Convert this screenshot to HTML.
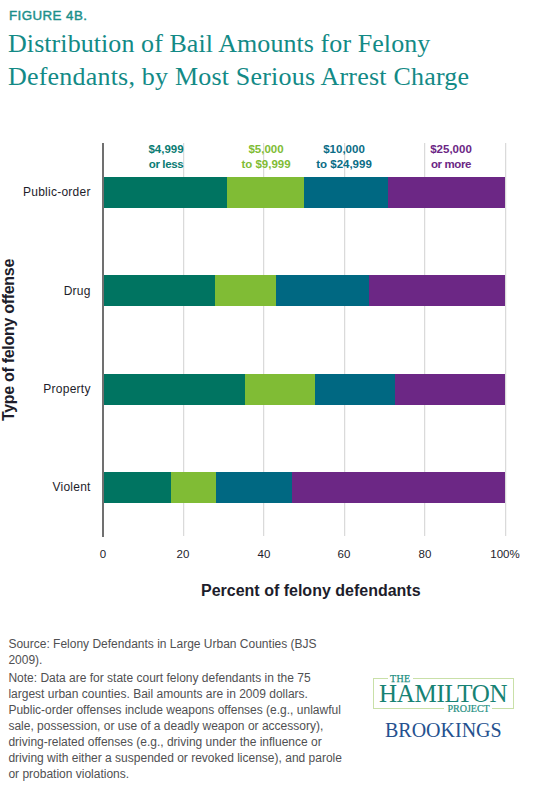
<!DOCTYPE html>
<html><head><meta charset="utf-8">
<style>
html,body{margin:0;padding:0;background:#fff;}
body{width:546px;height:788px;position:relative;overflow:hidden;font-family:"Liberation Sans",sans-serif;}
.a{position:absolute;white-space:nowrap;}
.fig{left:9px;top:7.5px;font-size:13.3px;line-height:16px;font-weight:400;color:#1b8f8a;letter-spacing:0.45px;-webkit-text-stroke:0.45px #1b8f8a;}
.t{left:8px;font-family:"Liberation Serif",serif;font-size:26px;line-height:32px;color:#138a86;}
.grid{position:absolute;top:143px;height:393px;width:1px;background:#dadada;box-shadow:1px 0 0 #f6f6f6;}
.axis{position:absolute;left:102px;top:143px;height:394px;width:2px;background:#707070;}
.bar{position:absolute;height:31px;}
.g1{background:#007461;}
.g2{background:#80bc35;}
.g3{background:#006882;}
.g4{background:#6c2785;}
.yl{position:absolute;right:455.3px;font-size:12px;line-height:14px;color:#1d1d2b;white-space:nowrap;letter-spacing:0.25px;}
.xl{position:absolute;width:60px;text-align:center;font-size:11.5px;line-height:12px;color:#1d1d2b;}
.lg{position:absolute;width:100px;text-align:center;font-size:11.5px;line-height:15px;font-weight:700;}
.lg span{display:block;}
.note{left:8.4px;top:636px;font-size:12px;line-height:16px;color:#505052;}
</style></head><body>
<div class="a fig">FIGURE 4B.</div>
<div class="a t" style="top:28px;letter-spacing:0.07px">Distribution of Bail Amounts for Felony</div>
<div class="a t" style="top:60.5px;letter-spacing:0.2px">Defendants, by Most Serious Arrest Charge</div>

<div class="grid" style="left:183px"></div>
<div class="grid" style="left:263px"></div>
<div class="grid" style="left:344px"></div>
<div class="grid" style="left:424px"></div>
<div class="grid" style="left:505px"></div>

<div class="lg" style="left:116px;top:141.6px;color:#0b7c73"><span>$4,999</span><span style="letter-spacing:-0.4px">or less</span></div>
<div class="lg" style="left:216px;top:141.6px;color:#80bc35"><span>$5,000</span><span>to $9,999</span></div>
<div class="lg" style="left:294px;top:141.6px;color:#0a6d86"><span>$10,000</span><span>to $24,999</span></div>
<div class="lg" style="left:401px;top:141.6px;color:#6c2785"><span>$25,000</span><span style="letter-spacing:-0.4px">or more</span></div>

<div class="bar g1" style="top:177px;left:103px;width:124px"></div>
<div class="bar g2" style="top:177px;left:227px;width:77px"></div>
<div class="bar g3" style="top:177px;left:304px;width:84px"></div>
<div class="bar g4" style="top:177px;left:388px;width:117px"></div>

<div class="bar g1" style="top:275px;left:103px;width:112px"></div>
<div class="bar g2" style="top:275px;left:215px;width:61px"></div>
<div class="bar g3" style="top:275px;left:276px;width:93px"></div>
<div class="bar g4" style="top:275px;left:369px;width:136px"></div>

<div class="bar g1" style="top:374px;left:103px;width:142px"></div>
<div class="bar g2" style="top:374px;left:245px;width:70px"></div>
<div class="bar g3" style="top:374px;left:315px;width:80px"></div>
<div class="bar g4" style="top:374px;left:395px;width:110px"></div>

<div class="bar g1" style="top:472px;left:103px;width:68px"></div>
<div class="bar g2" style="top:472px;left:171px;width:45px"></div>
<div class="bar g3" style="top:472px;left:216px;width:76px"></div>
<div class="bar g4" style="top:472px;left:292px;width:213px"></div>

<div class="axis"></div>

<div class="yl" style="top:185.4px">Public-order</div>
<div class="yl" style="top:283.8px">Drug</div>
<div class="yl" style="top:381.8px">Property</div>
<div class="yl" style="top:479.8px">Violent</div>

<div class="xl" style="left:73px;top:547.5px">0</div>
<div class="xl" style="left:153px;top:547.5px">20</div>
<div class="xl" style="left:234px;top:547.5px">40</div>
<div class="xl" style="left:314px;top:547.5px">60</div>
<div class="xl" style="left:395px;top:547.5px">80</div>
<div class="xl" style="left:475px;top:547.5px">100%</div>

<div class="a" style="left:201px;top:582px;font-size:16px;line-height:18px;font-weight:700;color:#1d1d2b">Percent of felony defendants</div>
<div class="a" style="left:-81px;top:331px;width:180px;text-align:center;font-size:16px;line-height:18px;font-weight:700;color:#1d1d2b;transform:rotate(-90deg);letter-spacing:-0.3px">Type of felony offense</div>

<div class="a note">Source: Felony Defendants in Large Urban Counties (BJS<br>2009).<div style="height:2px"></div>Note: Data are for state court felony defendants in the 75<br>largest urban counties. Bail amounts are in 2009 dollars.<br>Public-order offenses include weapons offenses (e.g., unlawful<br>sale, possession, or use of a deadly weapon or accessory),<br>driving-related offenses (e.g., driving under the influence or<br>driving with either a suspended or revoked license), and parole<br>or probation violations.</div>

<!-- logo -->
<div class="a" style="left:373px;top:678px;width:139px;height:29px;border:1px solid #c9e0a8;"></div>
<div class="a" style="left:388px;top:673px;width:25px;height:12px;background:#fff;"></div>
<div class="a" style="left:444px;top:702px;width:48px;height:12px;background:#fff;"></div>
<div class="a" style="left:390px;top:673.7px;font-family:'Liberation Serif',serif;font-size:10px;line-height:10px;color:#1e8f82;letter-spacing:0.3px;-webkit-text-stroke:0.25px #1e8f82">THE</div>
<div class="a" style="left:379px;top:681px;font-family:'Liberation Serif',serif;font-size:25px;line-height:26px;color:#178274;letter-spacing:-0.3px">HAMILTON</div>
<div class="a" style="left:447.5px;top:703.7px;font-family:'Liberation Serif',serif;font-size:10px;line-height:10px;color:#1e8f82;letter-spacing:0px;-webkit-text-stroke:0.2px #1e8f82">PROJECT</div>
<div class="a" style="left:385px;top:720px;font-family:'Liberation Serif',serif;font-size:20px;line-height:20px;color:#25518f;">BROOKINGS</div>
</body></html>
